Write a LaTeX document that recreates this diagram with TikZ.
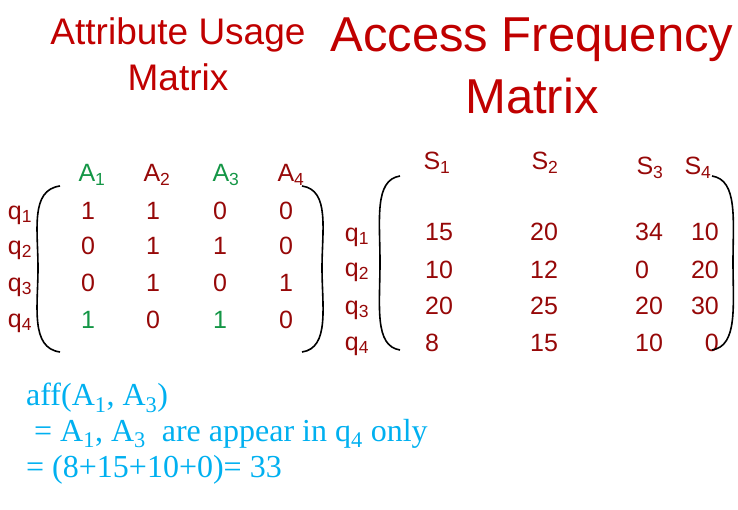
\documentclass[tikz,border=0pt]{standalone}
\usepackage{fontspec}
\setmainfont{Liberation Sans}
\newfontfamily\serifcyan{Liberation Serif}
\definecolor{tred}{RGB}{192,0,0}
\definecolor{mred}{RGB}{150,8,8}
\definecolor{mgreen}{RGB}{20,150,70}
\definecolor{cy}{RGB}{0,176,240}
\begin{document}
\begin{tikzpicture}[x=1pt,y=-1pt,
  title/.style={text=tred,font=\fontsize{49}{52}\selectfont,inner sep=0},
  subt/.style={text=tred,font=\fontsize{37}{40}\selectfont,inner sep=0},
  ent/.style={text=mred,font=\fontsize{25}{28}\selectfont,inner sep=0},
  gent/.style={ent,text=mgreen},
  br/.style={black,line width=1.6pt},
  note/.style={text=cy,font=\serifcyan\fontsize{32}{36}\selectfont,inner sep=0,anchor=west}]
\useasboundingbox (0,0) rectangle (738,510);
\node[subt] (t1) at (178,35) {Attribute Usage};
\node[subt] (t2) at (178,77) {Matrix};
\node[title] (t3) at (532,40) {Access Frequency};
\node[title] (t4) at (532,96) {Matrix};
% left matrix
\node[gent] (a1) at (92,175) {A\textsubscript{1}};
\node[ent] (a2) at (157,175) {A\textsubscript{2}};
\node[gent] (a3) at (226,175) {A\textsubscript{3}};
\node[ent] (a4) at (291,175) {A\textsubscript{4}};
\foreach \i/\y in {1/215,2/250,3/287,4/323}{\node[ent] (lq\i) at (20,\y) {q\textsubscript{\i}};}
\foreach \y/\a/\b/\c/\d in {211/1/1/0/0,246/0/1/1/0,283/0/1/0/1}{
  \node[ent] at (88,\y) {\a}; \node[ent] at (153,\y) {\b};
  \node[ent] at (220,\y) {\c}; \node[ent] at (286,\y) {\d};}
\node[gent] (g1) at (88,320) {1}; \node[ent] (g2) at (153,320) {0};
\node[gent] (g3) at (220,320) {1}; \node[ent] (g4) at (286,320) {0};
\draw[br] (60,186) .. controls (30,190) and (38,230) .. (38,268) .. controls (38,306) and (30,348) .. (60,352);
\draw[br] (302,186) .. controls (330,190) and (322,230) .. (322,268) .. controls (322,306) and (330,348) .. (302,352);
% right matrix
\node[ent] (s1) at (437,163) {S\textsubscript{1}};
\node[ent] (s2) at (545,163) {S\textsubscript{2}};
\node[ent] (s3) at (650,168) {S\textsubscript{3}};
\node[ent] (s4) at (698,168) {S\textsubscript{4}};
\foreach \i/\y in {1/237,2/272,3/310,4/346}{\node[ent] (rq\i) at (357,\y) {q\textsubscript{\i}};}
\foreach \y/\a/\b/\c/\d in {232/15/20/34/10,270/10/12/0/20,306/20/25/20/30,343/8/15/10/0}{
  \node[ent,anchor=west] at (425,\y) {\a}; \node[ent,anchor=west] at (530,\y) {\b};
  \node[ent,anchor=west] at (635,\y) {\c}; \node[ent,anchor=east] at (719,\y) {\d};}
\draw[br] (400,176) .. controls (374,180) and (380,220) .. (380,262) .. controls (380,306) and (374,346) .. (400,350);
\draw[br] (712,176) .. controls (738,180) and (733,220) .. (733,262) .. controls (733,306) and (738,346) .. (712,350);
% notes
\node[note] (n1) at (26,398) {aff(A\textsubscript{1}, A\textsubscript{3})};
\node[note] (n2) at (26,434) {\ = A\textsubscript{1}, A\textsubscript{3}\ \ are appear in q\textsubscript{4} only};
\node[note] (n3) at (26,470) {= (8+15+10+0)= 33};
\end{tikzpicture}
\end{document}
